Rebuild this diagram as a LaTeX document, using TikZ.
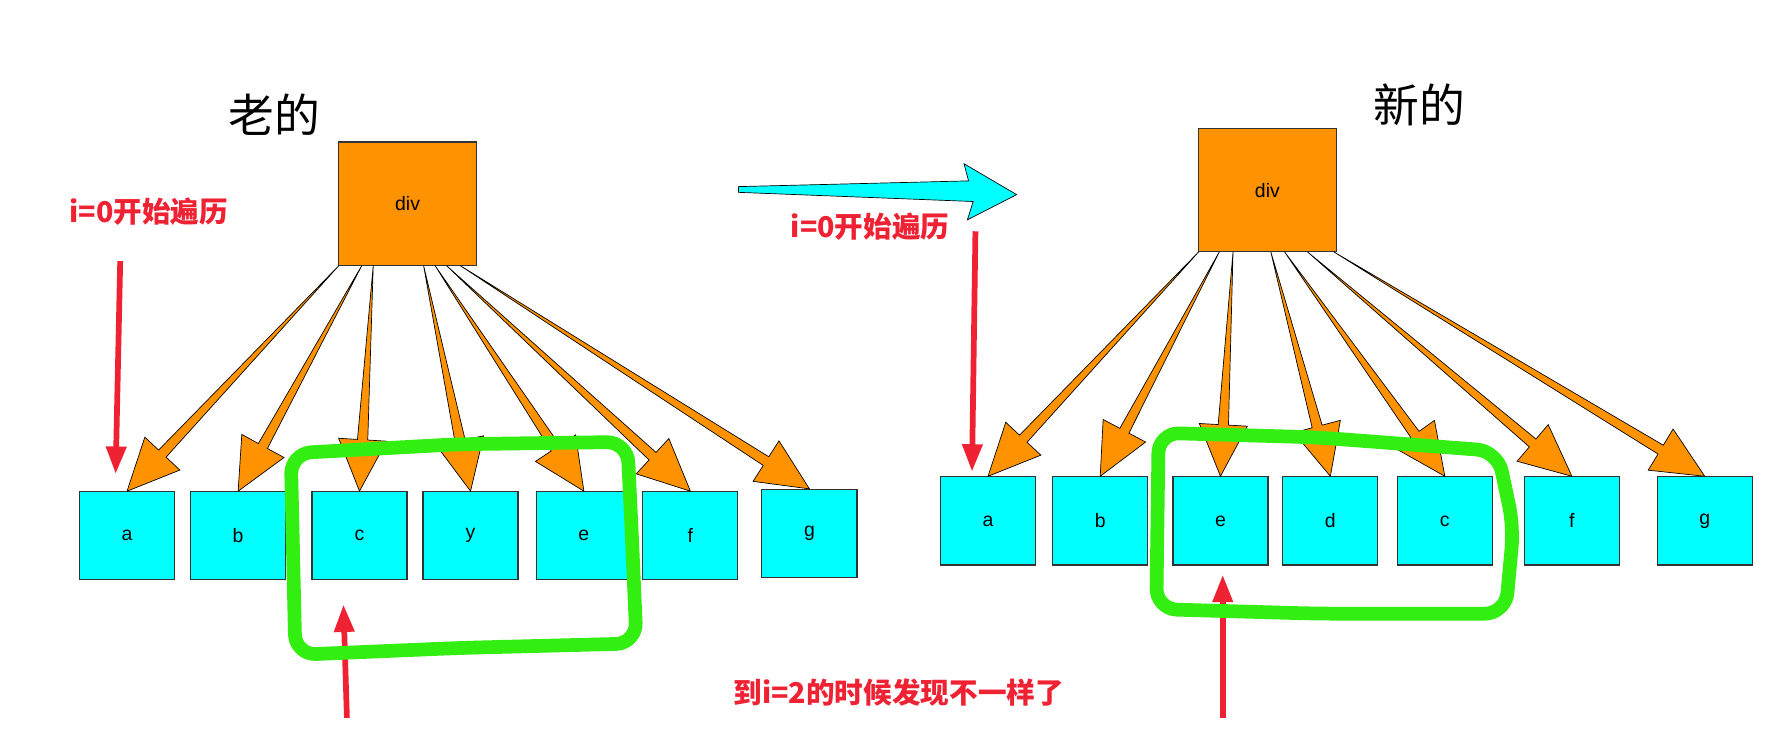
\documentclass[tikz,border=0pt]{standalone}
\usepackage{fontspec}
\setmainfont{Liberation Sans}
\newfontfamily\cjk{Noto Sans CJK SC}
\usetikzlibrary{calc,arrows.meta}
\definecolor{org}{HTML}{FF9200}
\definecolor{cy}{HTML}{00FFFF}
\definecolor{rd}{HTML}{EE2233}
\definecolor{gr}{HTML}{33EE11}
\tikzset{
 leaf/.style={draw=black!80,line width=1pt,fill=cy,minimum width=83pt,minimum height=77pt,inner sep=0pt,font=\fontsize{17}{17}\selectfont},
 divbox/.style={draw=black!80,line width=1pt,fill=org,minimum width=120pt,minimum height=108pt,inner sep=0pt,font=\fontsize{17}{17}\selectfont},
 title/.style={font=\cjk\fontsize{40}{40}\selectfont},
 redtxt/.style={text=rd,font=\cjk\bfseries\fontsize{25}{25}\selectfont},
 redarr/.style={draw=rd,line width=5pt,-{Triangle[length=24pt,width=17pt]}},
 loop/.style={draw=gr,line width=12pt,rounded corners=18pt,line join=round}
}
\newcommand{\fatarr}[3]{% from, to, color
 \coordinate (H) at ($(#2)!45pt!(#1)$);
 \filldraw[fill=#3,draw=black,line width=0.6pt,line join=miter]
  (#1) -- ($(H)!4.5pt!90:(#2)$) -- ($(H)!21pt!90:(#2)$) -- (#2)
  -- ($(H)!21pt!-90:(#2)$) -- ($(H)!4.5pt!-90:(#2)$) -- cycle;}
\begin{document}
\begin{tikzpicture}[x=1pt,y=-1pt]
\useasboundingbox (0,0) rectangle (1560,637);
% old
\node[divbox] (d1) at (356,178) {div};
\foreach \n/\t/\x/\yy in {oa/a/111/468,ob/b/208/468,oc/c/314/468,oy/y/411/468,oe/e/510/468,of/f/603/468,og/g/707/466}
  \node[leaf] (\n) at (\x,\yy) {\t};
\node[title] (t1) at (240,100) {老的};
\node[title] (t2) at (1240,92) {新的};
% new
\node[divbox] (d2) at (1107,166) {div};
\foreach \n/\t/\x in {na/a/863,nb/b/961,ne/e/1066,nd/d/1162,nc/c/1262,nf/f/1373,ng/g/1489}
  \node[leaf] (\n) at (\x,455) {\t};
% old arrows
\coordinate (s1) at (296,232); \coordinate (s2) at (316,232); \coordinate (s3) at (326,232);
\coordinate (s4) at (370,232); \coordinate (s5) at (380,232); \coordinate (s6) at (390,232); \coordinate (s7) at (402,232);
\fatarr{s1}{oa.north}{org}
\fatarr{s2}{ob.north}{org}
\fatarr{s3}{oc.north}{org}
\fatarr{s4}{oy.north}{org}
\fatarr{s5}{oe.north}{org}
\fatarr{s6}{of.north}{org}
\fatarr{s7}{og.north}{org}
% new arrows
\coordinate (u1) at (1047,220); \coordinate (u2) at (1065,220); \coordinate (u3) at (1077,220);
\coordinate (u4) at (1110,220); \coordinate (u5) at (1122,220); \coordinate (u6) at (1142,220); \coordinate (u7) at (1165,220);
\fatarr{u1}{na.north}{org}
\fatarr{u2}{nb.north}{org}
\fatarr{u3}{ne.north}{org}
\fatarr{u4}{nd.north}{org}
\fatarr{u5}{nc.north}{org}
\fatarr{u6}{nf.north}{org}
\fatarr{u7}{ng.north}{org}
% cyan arrow
\filldraw[fill=cy,draw=black,line width=0.6pt]
 (645,163) -- (846,158) -- (842,143) -- (888,170) -- (845,192) -- (850,176) -- (645,168) -- cycle;
% red texts and arrows
\node[redtxt] (r1) at (130,185) {i=0开始遍历};
\node[redtxt] (r2) at (760,198) {i=0开始遍历};
\node[redtxt] (r3) at (785,605) {到i=2的时候发现不一样了};
\coordinate (p1) at (105,228); \coordinate (p2) at (101,414);
\coordinate (p3) at (852,202); \coordinate (p4) at (849,412);
\coordinate (p5) at (303,627); \coordinate (p6) at (300,528);
\coordinate (p7) at (1068,627); \coordinate (p8) at (1068,502);
\draw[redarr] (p1) -- (p2);
\draw[redarr] (p3) -- (p4);
\draw[redarr] (p5) -- (p6);
\draw[redarr] (p7) -- (p8);
% green loops
\draw[loop] (254,396) -- (400,388) -- (548,386) -- (552,470) -- (556,562) -- (400,566) -- (258,572) -- cycle;
\draw[loop] (1012,378) -- (1150,382) -- (1308,394) -- (1322,460) -- (1315,536) -- (1150,536) -- (1010,532) -- cycle;
\end{tikzpicture}
\end{document}
